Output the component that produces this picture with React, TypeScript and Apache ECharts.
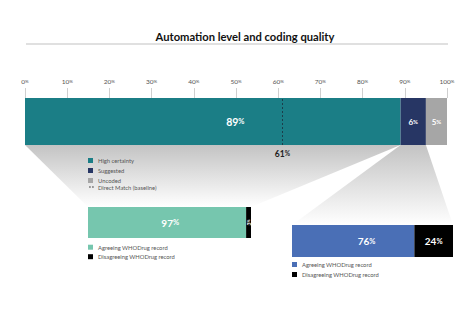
import React, { useEffect, useRef } from "react";
import * as echarts from "echarts";

// ---- data ----
const chartTitle = "Automation level and coding quality";
const categories = ["Automation"];
const mainNames = ["High certainty", "Suggested", "Uncoded"];
const mainValues = [89, 6, 5];
const baselineName = "Direct Match (baseline)";
const baselineValue = 61;
const qualityNames = ["Agreeing WHODrug record", "Disagreeing WHODrug record"];
const highCertaintyQuality = [97, 3];
const suggestedQuality = [76, 24];

// ---- styles ----
const FONT = "Lato, 'Open Sans', sans-serif";
const mainColors = ["#1b7e86", "#273664", "#a6a6a6"];
const leftColors = ["#76c6ae", "#000000"];
const rightColors = ["#4a6fb6", "#000000"];

const G0 = { left: 25, top: 98, width: 422, height: 47 };
const G1 = { left: 88, top: 207, width: 163, height: 31 };
const G2 = { left: 292, top: 225, width: 161, height: 32 };

const pctRich = (size: number, psize: number, color: string, weight: any = "bold") => ({
  n: { fontSize: size, fontWeight: weight, color, fontFamily: FONT },
  p: { fontSize: psize, fontWeight: weight, color, fontFamily: FONT },
});

export default function App() {
  const ref = useRef<HTMLDivElement>(null);
  useEffect(() => {
    if (!ref.current) return;
    const chart = echarts.init(ref.current, null, { renderer: "svg" });

    const hiddenX = (gridIndex: number) => ({
      type: "value", gridIndex, min: 0, max: 100, show: false,
    });
    const hiddenY = (gridIndex: number) => ({
      type: "category", gridIndex, data: categories, show: false,
    });

    const mainSeries = mainValues.map((v, i) => ({
      type: "bar",
      name: mainNames[i],
      stack: "main",
      xAxisIndex: 0,
      yAxisIndex: 0,
      barWidth: "100%",
      data: [v],
      itemStyle: { color: mainColors[i] },
      label: {
        show: true,
        position: i === 0 ? ["56%", "50%"] : ["50%", "50%"],
        align: "center",
        verticalAlign: "middle",
        formatter: (p: any) => `{n|${p.value}}{p|%}`,
        rich: i === 0 ? pctRich(10.5, 7.5, "#ffffff") : pctRich(8, 6, "#ffffff"),
      },
      markLine:
        i === 0
          ? {
              silent: true,
              symbol: "none",
              data: [{ xAxis: baselineValue }],
              lineStyle: { type: [2, 2], color: "#1c3d4a", width: 1 },
              label: {
                show: true,
                position: "start",
                distance: 4,
                formatter: `{n|${baselineValue}}{p|%}`,
                rich: pctRich(8.5, 6.5, "#222222"),
              },
            }
          : undefined,
    }));

    const subSeries = (
      values: number[],
      colors: string[],
      gi: number,
      ids: string[],
      positions: any[]
    ) =>
      values.map((v, i) => ({
        type: "bar",
        name: ids[i],
        stack: "sub" + gi,
        xAxisIndex: gi,
        yAxisIndex: gi,
        barWidth: "100%",
        data: [v],
        itemStyle: { color: colors[i] },
        label: {
          show: true,
          position: positions[i],
          align: "center",
          verticalAlign: "middle",
          rotate: v < 5 ? 90 : 0,
          formatter: (p: any) => `{n|${p.value}}{p|%}`,
          rich: v < 5 ? pctRich(5, 4, "#ffffff") : pctRich(10, 7.5, "#ffffff"),
        },
      }));

    const leftIds = ["agreeHC", "disagreeHC"];
    const rightIds = ["agreeSG", "disagreeSG"];
    const nameMap: Record<string, string> = {
      agreeHC: qualityNames[0],
      disagreeHC: qualityNames[1],
      agreeSG: qualityNames[0],
      disagreeSG: qualityNames[1],
    };

    const legendBase = {
      orient: "vertical",
      icon: "rect",
      itemWidth: 5,
      itemHeight: 5,
      selectedMode: false,
      padding: 0,
      textStyle: { fontSize: 5.8, color: "#555555", fontFamily: FONT, lineHeight: 5 },
      formatter: (name: string) => nameMap[name] || name,
    };

    const option: any = {
      animation: false,
      backgroundColor: "#ffffff",
      grid: [
        { ...G0, containLabel: false },
        { ...G1, containLabel: false },
        { ...G2, containLabel: false },
      ],
      xAxis: [
        {
          type: "value",
          gridIndex: 0,
          position: "top",
          min: 0,
          max: 100,
          interval: 10,
          axisLine: { show: false },
          splitLine: { show: false },
          axisTick: { show: true, length: 10, lineStyle: { color: "#cfcfcf", width: 1 } },
          axisLabel: {
            margin: 13,
            color: "#555555",
            fontFamily: FONT,
            formatter: (v: number) => `{n|${v}}{p|%}`,
            rich: pctRich(6.5, 4.5, "#555555", "normal"),
          },
        },
        hiddenX(1),
        hiddenX(2),
      ],
      yAxis: [hiddenY(0), hiddenY(1), hiddenY(2)],
      legend: [
        { ...legendBase, left: 88, top: 157.5, itemGap: 4, data: mainNames },
        { ...legendBase, left: 88, top: 244.2, itemGap: 3.5, data: leftIds },
        { ...legendBase, left: 292, top: 261.5, itemGap: 4, data: rightIds },
      ],
      series: [
        ...mainSeries,
        ...subSeries(highCertaintyQuality, leftColors, 1, leftIds, [["52%", "50%"], ["50%", "50%"]]),
        ...subSeries(suggestedQuality, rightColors, 2, rightIds, [["61%", "50%"], ["50%", "50%"]]),
      ],
    };
    chart.setOption(option);

    // funnels computed from the scales
    const px = (axis: number, v: number) =>
      chart.convertToPixel({ xAxisIndex: axis } as any, v) as number;
    const hcEnd = px(0, mainValues[0]);
    const sgEnd = px(0, mainValues[0] + mainValues[1]);
    const barBottom = G0.top + G0.height;
    const grad = () =>
      new echarts.graphic.LinearGradient(0, 0, 0, 1, [
        { offset: 0, color: "#c3c3c3" },
        { offset: 1, color: "#ffffff" },
      ]);

    chart.setOption({
      graphic: [
        {
          type: "text",
          x: 245,
          y: 36,
          style: {
            text: chartTitle,
            align: "center",
            verticalAlign: "middle",
            fontSize: 11.2,
            fontWeight: "bold",
            fill: "#111111",
            fontFamily: FONT,
          },
        },
        {
          type: "line",
          shape: { x1: 26, y1: 44, x2: 448, y2: 44 },
          style: { stroke: "#e0e0e0", lineWidth: 2 },
        },
        {
          type: "polygon",
          z: -1,
          shape: {
            points: [
              [px(0, 0), barBottom],
              [hcEnd, barBottom],
              [px(1, 100), G1.top],
              [px(1, 0), G1.top],
            ],
          },
          style: { fill: grad() },
        },
        {
          type: "polygon",
          z: -1,
          shape: {
            points: [
              [hcEnd, barBottom],
              [sgEnd, barBottom],
              [px(2, 100), G2.top],
              [px(2, 0), G2.top],
            ],
          },
          style: { fill: grad() },
        },
        {
          type: "rect",
          shape: { x: 89, y: 186.5, width: 1.8, height: 1 },
          style: { fill: "#444444" },
        },
        {
          type: "rect",
          shape: { x: 92, y: 186.5, width: 1.8, height: 1 },
          style: { fill: "#444444" },
        },
        {
          type: "text",
          x: 98,
          y: 187,
          style: {
            text: baselineName,
            verticalAlign: "middle",
            fontSize: 5.8,
            fill: "#555555",
            fontFamily: FONT,
          },
        },
      ],
    });

    return () => chart.dispose();
  }, []);

  return (
    <div
      ref={ref}
      style={{ position: "absolute", left: 0, top: 0, width: 474, height: 309 }}
    />
  );
}
